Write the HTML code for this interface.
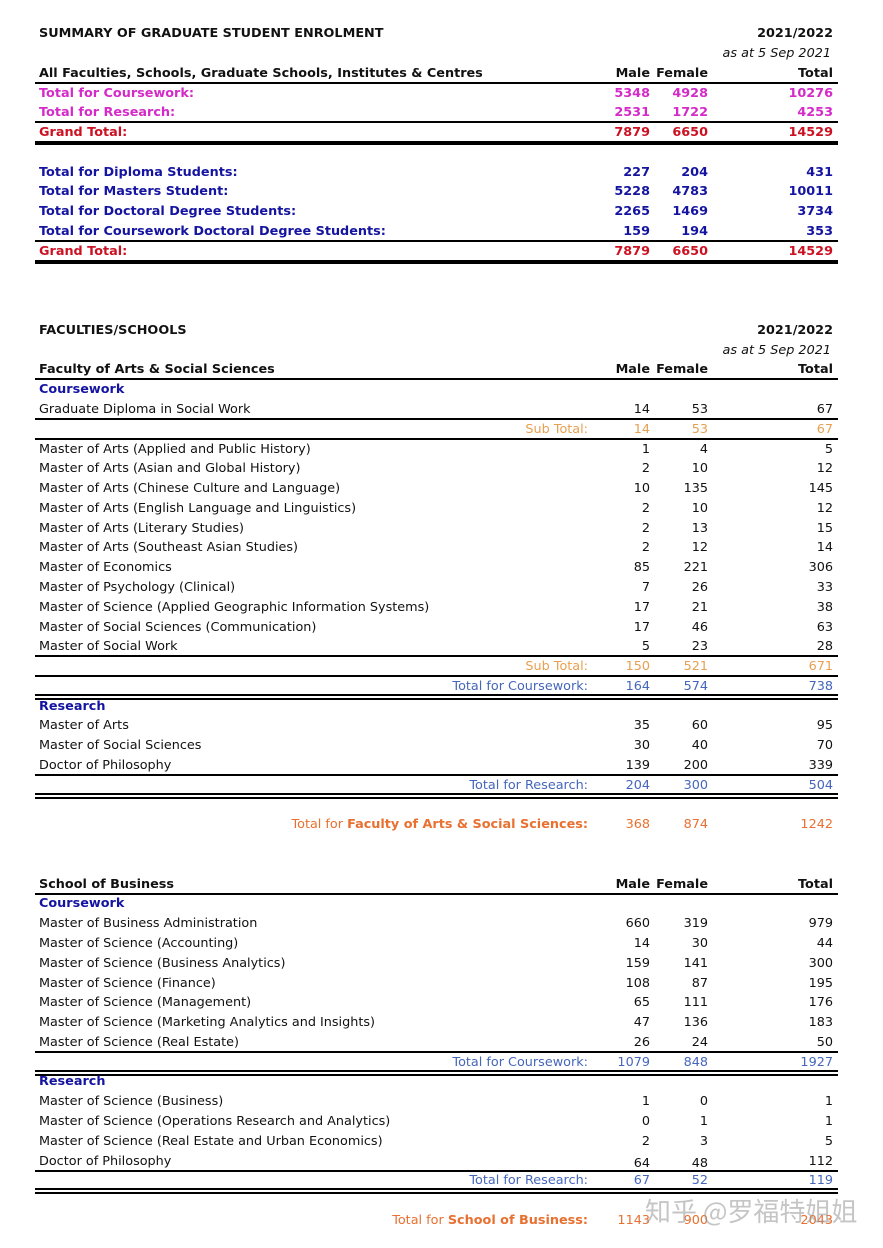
<!DOCTYPE html>
<html><head><meta charset="utf-8">
<style>
html,body{margin:0;padding:0;background:#fff;}
body{width:883px;height:1248px;position:relative;overflow:hidden;font-family:"DejaVu Sans","Liberation Sans","Noto Sans CJK SC",sans-serif;font-size:12.8px;color:#111;}
.t{position:absolute;height:18px;line-height:18px;white-space:nowrap;margin-top:1px;}
.l{left:39px;}
.m{right:233px;text-align:right;}
.f{right:175px;text-align:right;}
.s{right:50px;text-align:right;}
.lab{right:295px;text-align:right;}
.b{font-weight:bold;}
.i{font-style:italic;}
.hr{position:absolute;left:35px;width:803px;height:2px;background:#000;}
.hk{position:absolute;left:35px;width:803px;height:4px;background:#000;}
.mg{color:#d42ac8;font-weight:bold;}
.rd{color:#cc1122;font-weight:bold;}
.db{color:#1414a0;font-weight:bold;}
.or{color:#e8a050;}
.bl{color:#4466bb;}
.fo{color:#e87030;}
.wm{position:absolute;left:645px;top:1195px;font-size:26px;line-height:32px;color:rgba(150,150,150,0.55);font-family:"Noto Sans CJK SC","DejaVu Sans",sans-serif;white-space:nowrap;}
</style></head><body>

<!-- Section 1 -->
<div class="t l b" style="top:24px">SUMMARY OF GRADUATE STUDENT ENROLMENT</div>
<div class="t s b" style="top:24px">2021/2022</div>
<div class="t s i" style="top:44px;right:52px">as at 5 Sep 2021</div>
<div class="t l b" style="top:64px">All Faculties, Schools, Graduate Schools, Institutes &amp; Centres</div>
<div class="t m b" style="top:64px">Male</div>
<div class="t f b" style="top:64px">Female</div>
<div class="t s b" style="top:64px">Total</div>
<div class="hr" style="top:82px"></div>
<div class="t l mg" style="top:84px">Total for Coursework:</div>
<div class="t m mg" style="top:84px">5348</div><div class="t f mg" style="top:84px">4928</div><div class="t s mg" style="top:84px">10276</div>
<div class="t l mg" style="top:103px">Total for Research:</div>
<div class="t m mg" style="top:103px">2531</div><div class="t f mg" style="top:103px">1722</div><div class="t s mg" style="top:103px">4253</div>
<div class="hr" style="top:121px"></div>
<div class="t l rd" style="top:123px">Grand Total:</div>
<div class="t m rd" style="top:123px">7879</div><div class="t f rd" style="top:123px">6650</div><div class="t s rd" style="top:123px">14529</div>
<div class="hk" style="top:141px"></div>

<div class="t l db" style="top:163px">Total for Diploma Students:</div>
<div class="t m db" style="top:163px">227</div><div class="t f db" style="top:163px">204</div><div class="t s db" style="top:163px">431</div>
<div class="t l db" style="top:182px">Total for Masters Student:</div>
<div class="t m db" style="top:182px">5228</div><div class="t f db" style="top:182px">4783</div><div class="t s db" style="top:182px">10011</div>
<div class="t l db" style="top:202px">Total for Doctoral Degree Students:</div>
<div class="t m db" style="top:202px">2265</div><div class="t f db" style="top:202px">1469</div><div class="t s db" style="top:202px">3734</div>
<div class="t l db" style="top:222px">Total for Coursework Doctoral Degree Students:</div>
<div class="t m db" style="top:222px">159</div><div class="t f db" style="top:222px">194</div><div class="t s db" style="top:222px">353</div>
<div class="hr" style="top:240px"></div>
<div class="t l rd" style="top:242px">Grand Total:</div>
<div class="t m rd" style="top:242px">7879</div><div class="t f rd" style="top:242px">6650</div><div class="t s rd" style="top:242px">14529</div>
<div class="hk" style="top:260px"></div>

<!-- Section 2 -->
<div class="t l b" style="top:321px">FACULTIES/SCHOOLS</div>
<div class="t s b" style="top:321px">2021/2022</div>
<div class="t s i" style="top:341px;right:52px">as at 5 Sep 2021</div>
<div class="t l b" style="top:360px">Faculty of Arts &amp; Social Sciences</div>
<div class="t m b" style="top:360px">Male</div>
<div class="t f b" style="top:360px">Female</div>
<div class="t s b" style="top:360px">Total</div>
<div class="hr" style="top:378px"></div>
<div class="t l db" style="top:380px">Coursework</div>
<div class="t l" style="top:400px">Graduate Diploma in Social Work</div>
<div class="t m" style="top:400px">14</div><div class="t f" style="top:400px">53</div><div class="t s" style="top:400px">67</div>
<div class="hr" style="top:418px"></div>
<div class="t lab or" style="top:420px">Sub Total:</div>
<div class="t m or" style="top:420px">14</div><div class="t f or" style="top:420px">53</div><div class="t s or" style="top:420px">67</div>
<div class="hr" style="top:438px"></div>

<div class="t l" style="top:440px">Master of Arts (Applied and Public History)</div>
<div class="t m" style="top:440px">1</div><div class="t f" style="top:440px">4</div><div class="t s" style="top:440px">5</div>
<div class="t l" style="top:459px">Master of Arts (Asian and Global History)</div>
<div class="t m" style="top:459px">2</div><div class="t f" style="top:459px">10</div><div class="t s" style="top:459px">12</div>
<div class="t l" style="top:479px">Master of Arts (Chinese Culture and Language)</div>
<div class="t m" style="top:479px">10</div><div class="t f" style="top:479px">135</div><div class="t s" style="top:479px">145</div>
<div class="t l" style="top:499px">Master of Arts (English Language and Linguistics)</div>
<div class="t m" style="top:499px">2</div><div class="t f" style="top:499px">10</div><div class="t s" style="top:499px">12</div>
<div class="t l" style="top:519px">Master of Arts (Literary Studies)</div>
<div class="t m" style="top:519px">2</div><div class="t f" style="top:519px">13</div><div class="t s" style="top:519px">15</div>
<div class="t l" style="top:538px">Master of Arts (Southeast Asian Studies)</div>
<div class="t m" style="top:538px">2</div><div class="t f" style="top:538px">12</div><div class="t s" style="top:538px">14</div>
<div class="t l" style="top:558px">Master of Economics</div>
<div class="t m" style="top:558px">85</div><div class="t f" style="top:558px">221</div><div class="t s" style="top:558px">306</div>
<div class="t l" style="top:578px">Master of Psychology (Clinical)</div>
<div class="t m" style="top:578px">7</div><div class="t f" style="top:578px">26</div><div class="t s" style="top:578px">33</div>
<div class="t l" style="top:598px">Master of Science (Applied Geographic Information Systems)</div>
<div class="t m" style="top:598px">17</div><div class="t f" style="top:598px">21</div><div class="t s" style="top:598px">38</div>
<div class="t l" style="top:618px">Master of Social Sciences (Communication)</div>
<div class="t m" style="top:618px">17</div><div class="t f" style="top:618px">46</div><div class="t s" style="top:618px">63</div>
<div class="t l" style="top:637px">Master of Social Work</div>
<div class="t m" style="top:637px">5</div><div class="t f" style="top:637px">23</div><div class="t s" style="top:637px">28</div>
<div class="hr" style="top:655px"></div>
<div class="t lab or" style="top:657px">Sub Total:</div>
<div class="t m or" style="top:657px">150</div><div class="t f or" style="top:657px">521</div><div class="t s or" style="top:657px">671</div>
<div class="hr" style="top:675px"></div>
<div class="t lab bl" style="top:677px">Total for Coursework:</div>
<div class="t m bl" style="top:677px">164</div><div class="t f bl" style="top:677px">574</div><div class="t s bl" style="top:677px">738</div>
<div class="hr" style="top:694px"></div>
<div class="hr" style="top:698px"></div>

<div class="t l db" style="top:697px">Research</div>
<div class="t l" style="top:716px">Master of Arts</div>
<div class="t m" style="top:716px">35</div><div class="t f" style="top:716px">60</div><div class="t s" style="top:716px">95</div>
<div class="t l" style="top:736px">Master of Social Sciences</div>
<div class="t m" style="top:736px">30</div><div class="t f" style="top:736px">40</div><div class="t s" style="top:736px">70</div>
<div class="t l" style="top:756px">Doctor of Philosophy</div>
<div class="t m" style="top:756px">139</div><div class="t f" style="top:756px">200</div><div class="t s" style="top:756px">339</div>
<div class="hr" style="top:774px"></div>
<div class="t lab bl" style="top:776px">Total for Research:</div>
<div class="t m bl" style="top:776px">204</div><div class="t f bl" style="top:776px">300</div><div class="t s bl" style="top:776px">504</div>
<div class="hr" style="top:793px"></div>
<div class="hr" style="top:797px"></div>

<div class="t lab fo" style="top:815px">Total for <b>Faculty of Arts &amp; Social Sciences:</b></div>
<div class="t m fo" style="top:815px">368</div><div class="t f fo" style="top:815px">874</div><div class="t s fo" style="top:815px">1242</div>

<!-- Section 3 -->
<div class="t l b" style="top:875px">School of Business</div>
<div class="t m b" style="top:875px">Male</div>
<div class="t f b" style="top:875px">Female</div>
<div class="t s b" style="top:875px">Total</div>
<div class="hr" style="top:893px"></div>
<div class="t l db" style="top:894px">Coursework</div>
<div class="t l" style="top:914px">Master of Business Administration</div>
<div class="t m" style="top:914px">660</div><div class="t f" style="top:914px">319</div><div class="t s" style="top:914px">979</div>
<div class="t l" style="top:934px">Master of Science (Accounting)</div>
<div class="t m" style="top:934px">14</div><div class="t f" style="top:934px">30</div><div class="t s" style="top:934px">44</div>
<div class="t l" style="top:954px">Master of Science (Business Analytics)</div>
<div class="t m" style="top:954px">159</div><div class="t f" style="top:954px">141</div><div class="t s" style="top:954px">300</div>
<div class="t l" style="top:974px">Master of Science (Finance)</div>
<div class="t m" style="top:974px">108</div><div class="t f" style="top:974px">87</div><div class="t s" style="top:974px">195</div>
<div class="t l" style="top:993px">Master of Science (Management)</div>
<div class="t m" style="top:993px">65</div><div class="t f" style="top:993px">111</div><div class="t s" style="top:993px">176</div>
<div class="t l" style="top:1013px">Master of Science (Marketing Analytics and Insights)</div>
<div class="t m" style="top:1013px">47</div><div class="t f" style="top:1013px">136</div><div class="t s" style="top:1013px">183</div>
<div class="t l" style="top:1033px">Master of Science (Real Estate)</div>
<div class="t m" style="top:1033px">26</div><div class="t f" style="top:1033px">24</div><div class="t s" style="top:1033px">50</div>
<div class="hr" style="top:1051px"></div>
<div class="t lab bl" style="top:1053px">Total for Coursework:</div>
<div class="t m bl" style="top:1053px">1079</div><div class="t f bl" style="top:1053px">848</div><div class="t s bl" style="top:1053px">1927</div>
<div class="hr" style="top:1070px"></div>
<div class="hr" style="top:1074px"></div>

<div class="t l db" style="top:1072px">Research</div>
<div class="t l" style="top:1092px">Master of Science (Business)</div>
<div class="t m" style="top:1092px">1</div><div class="t f" style="top:1092px">0</div><div class="t s" style="top:1092px">1</div>
<div class="t l" style="top:1112px">Master of Science (Operations Research and Analytics)</div>
<div class="t m" style="top:1112px">0</div><div class="t f" style="top:1112px">1</div><div class="t s" style="top:1112px">1</div>
<div class="t l" style="top:1132px">Master of Science (Real Estate and Urban Economics)</div>
<div class="t m" style="top:1132px">2</div><div class="t f" style="top:1132px">3</div><div class="t s" style="top:1132px">5</div>
<div class="t l" style="top:1152px">Doctor of Philosophy</div>
<div class="t m" style="top:1154px">64</div><div class="t f" style="top:1154px">48</div><div class="t s" style="top:1152px">112</div>
<div class="hr" style="top:1170px"></div>
<div class="t lab bl" style="top:1171px">Total for Research:</div>
<div class="t m bl" style="top:1171px">67</div><div class="t f bl" style="top:1171px">52</div><div class="t s bl" style="top:1171px">119</div>
<div class="hr" style="top:1188px"></div>
<div class="hr" style="top:1192px"></div>

<div class="t lab fo" style="top:1211px">Total for <b>School of Business:</b></div>
<div class="t m fo" style="top:1211px">1143</div><div class="t f fo" style="top:1211px">900</div><div class="t s fo" style="top:1211px">2043</div>

<div class="wm">知乎 @罗福特姐姐</div>
</body></html>
